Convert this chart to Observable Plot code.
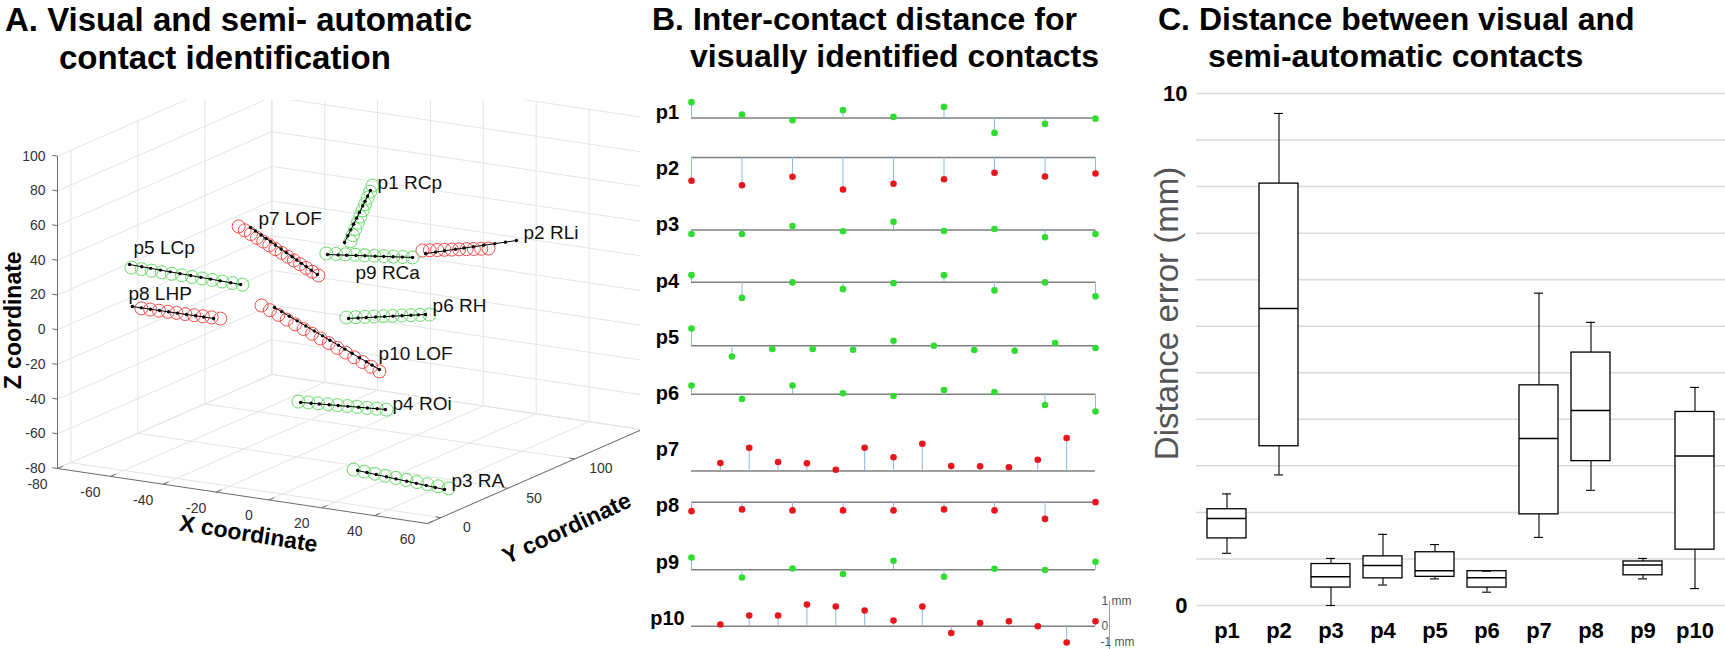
<!DOCTYPE html>
<html><head><meta charset="utf-8">
<script src="https://cdn.jsdelivr.net/npm/d3@7"></script>
<script src="https://cdn.jsdelivr.net/npm/@observablehq/plot@0.6"></script>
<style>
body{margin:0;background:#fff;font-family:"Liberation Sans",Arial,Helvetica,sans-serif;}
#fig{position:relative;width:1725px;height:649px;overflow:hidden;background:#fff;}
.t{position:absolute;font-weight:bold;color:#000;white-space:nowrap;line-height:26px;height:26px;}
.pane{position:absolute;}
.pane svg{overflow:visible;}
</style></head><body><div id="fig"></div>
<script>
// ---------------- DATA ----------------
const patients = ["p1","p2","p3","p4","p5","p6","p7","p8","p9","p10"];
const electrodeNames = ["p1 RCp","p2 RLi","p3 RA","p4 ROi","p5 LCp","p6 RH","p7 LOF","p8 LHP","p9 RCa","p10 LOF"];
const contactClass = ["green","red","green","green","green","green","red","red","green","red"];

// Panel A: 3D coordinates (mm) of first / last contact (visual and semi-automatic) and label anchors
const visualStart = [[13.4,20,61.3],[39.0,30,57.3],[23.4,10,-64.5],[6.9,0,-25.6],[-57.8,0,39.2],[14.9,20,17.8],[-52.6,80,34.6],[-61.8,10,10.7],[12.0,10,57.4],[-33.4,60,-0.3]];
const visualEnd   = [[23.2,20,93.5],[48.0,80,49.9],[56.3,10,-68.0],[39.0,0,-22.4],[-15.8,0,37.2],[44.0,20,26.7],[-27.3,80,13.3],[-31.1,10,10.8],[44.2,10,63.0],[6.3,60,-27.1]];
const semiStart   = [[15.6,20,62.4],[37.8,30,58.8],[21.9,10,-64.3],[6.1,0,-25.3],[-57.1,0,37.6],[14.1,20,18.2],[-57.1,80,34.2],[-58.4,10,10.4],[11.6,10,57.9],[-38.3,60,-0.3]];
const semiEnd     = [[24.0,20,96.5],[47.6,60,52.0],[57.8,10,-67.0],[39.4,0,-22.4],[-15.1,0,37.3],[45.5,20,27.0],[-26.9,80,12.8],[-28.5,10,11.3],[44.2,10,63.0],[6.3,60,-28.2]];
const labelPos    = [[25.9,20,98.7],[50.7,80,55.2],[58.9,10,-62.2],[41.7,0,-18.4],[-56.3,0,49.3],[46.7,20,32.5],[-49.6,80,40.5],[-63.3,10,17.9],[22.6,10,49.4],[6.0,60,-17.9]];
const nominalSpacing = 3.5; // mm
const xLim = [-80,60], yLim = [-10,150], zLim = [-80,100];
const xTicks = [-80,-60,-40,-20,0,20,40,60];
const yTicks = [0,50,100];
const zTicks = [-80,-60,-40,-20,0,20,40,60,80,100];

// Panel B: inter-contact distance deviation (mm)
const interContact = [
  [0.63,0.13,-0.09,0.31,0.04,0.44,-0.60,-0.24,-0.03],
  [-0.93,-1.11,-0.77,-1.28,-1.05,-0.87,-0.61,-0.76,-0.64],
  [-0.16,-0.16,0.16,-0.05,0.33,-0.04,0.04,-0.29,-0.16],
  [0.28,-0.63,-0.01,-0.28,-0.04,0.28,-0.33,-0.01,-0.57],
  [0.69,-0.43,-0.13,-0.13,-0.16,0.20,0.00,-0.17,-0.20,0.11,-0.09],
  [0.35,-0.19,0.35,0.04,-0.07,0.17,0.09,-0.43,-0.69],
  [0.32,0.93,0.36,0.31,0.05,0.93,0.55,1.09,0.20,0.19,0.15,0.45,1.32],
  [-0.36,-0.29,-0.33,-0.33,-0.33,-0.29,-0.33,-0.67,0.00],
  [0.49,-0.31,0.05,-0.17,0.36,-0.28,0.04,-0.01,0.32],
  [0.07,0.43,0.43,0.87,0.79,0.63,0.23,0.79,-0.27,0.13,0.20,0.00,-0.65,0.20]
];
const rowIndexStart = [0,0,0,0,0,0,1,0,0,1];
const rowIndexMax   = [8,8,8,8,10,8,14,8,8,14];
const scaleTicks = [-1,0,1];

// Panel C: distance error box statistics (mm)
const whiskerLow  = [1.02,2.55,0.00,0.40,0.52,0.26,1.33,2.25,0.52,0.33];
const quart1      = [1.31,3.11,0.35,0.53,0.56,0.35,1.78,2.82,0.59,1.09];
const medians     = [1.70,5.80,0.56,0.78,0.68,0.54,3.26,3.81,0.79,2.92];
const quart3      = [1.88,8.24,0.81,0.96,1.04,0.67,4.30,4.94,0.86,3.78];
const whiskerHigh = [2.18,9.61,0.92,1.39,1.19,0.67,6.10,5.53,0.92,4.26];
const cTicks = [0,10];
const cGrid = d3.range(12).map(i => i*10/11);

// ---------------- LAYOUT ----------------
const FONT = '"Liberation Sans", Arial, Helvetica, sans-serif';
const fig = document.getElementById("fig");
function addLine(text, left, baseline, size){
  const d = document.createElement("div"); d.className = "t"; d.textContent = text;
  d.style.left = left+"px"; d.style.fontSize = size+"px";
  d.style.top = (baseline - ((26 - 1.117*size)/2 + 0.905*size))+"px";
  fig.appendChild(d);
}
function addPane(node, left, top){
  const d = document.createElement("div"); d.className = "pane";
  d.style.left = left+"px"; d.style.top = top+"px"; d.appendChild(node); fig.appendChild(d);
  node.style.overflow = "visible";
}
addLine("A. Visual and semi- automatic", 5, 31, 33);
addLine("contact identification", 59, 69, 33);
addLine("B. Inter-contact distance for", 652, 30, 32);
addLine("visually identified contacts", 690, 67, 32);
addLine("C. Distance between visual and", 1158, 30, 32);
addLine("semi-automatic contacts", 1208, 67, 32);

const dotColor = {green: "#2fdc2f", red: "#e8161c"};
const ringColor = {green: "#66dd66", red: "#f24c4c"};

// ---------------- PANEL A ----------------
const view = {ex:[2.643,-0.393], ey:[1.34,0.5875], ez:[0,1.735]};
const P = ([X,Y,Z]) => {
  const a = X-xLim[0], b = Y-yLim[0], c = Z-zLim[0];
  return [view.ex[0]*a + view.ey[0]*b + view.ez[0]*c, view.ex[1]*a + view.ey[1]*b + view.ez[1]*c];
};
const seg = (p, q) => { const [u1,w1] = P(p), [u2,w2] = P(q); return {u1,w1,u2,w2}; };
const [x0,x1] = xLim, [y0,y1] = yLim, [z0,z1] = zLim;
const grid = [];
xTicks.forEach(X => { grid.push(seg([X,y0,z0],[X,y1,z0])); grid.push(seg([X,y1,z0],[X,y1,z1])); });
[...yTicks, y1].forEach(Y => { grid.push(seg([x0,Y,z0],[x1,Y,z0])); grid.push(seg([x0,Y,z0],[x0,Y,z1])); });
zTicks.forEach(Z => { grid.push(seg([x0,y0,Z],[x0,y1,Z])); grid.push(seg([x0,y1,Z],[x1,y1,Z])); });
const axesLines = [seg([x0,y0,z0],[x1,y0,z0]), seg([x1,y0,z0],[x1,y1,z0]), seg([x0,y0,z0],[x0,y0,z1])];
const tickMarks = [
  ...xTicks.map(X => seg([X,y0,z0],[X,y0+4,z0])),
  ...yTicks.map(Y => seg([x1,Y,z0],[x1-2,Y,z0])),
  ...zTicks.map(Z => seg([x0,y0,Z],[x0-2,y0,Z]))
];
const lerp = (s,e,f) => s.map((v,j) => v + (e[j]-v)*f);
const visual = [], semi = [];
patients.forEach((p,i) => {
  const gaps = interContact[i].map(d => nominalSpacing + d);
  const total = d3.sum(gaps);
  const cum = [0, ...d3.cumsum(gaps)];
  cum.forEach((c,k) => { const [u,w] = P(lerp(visualStart[i], visualEnd[i], c/total)); visual.push({id:p,k,u,w}); });
  const n = cum.length;
  d3.range(n).forEach(k => { const [u,w] = P(lerp(semiStart[i], semiEnd[i], k/(n-1))); semi.push({id:p,k,u,w,col:ringColor[contactClass[i]]}); });
});
const labels = electrodeNames.map((t,i) => { const [u,w] = P(labelPos[i]); return {t,u,w}; });
const xLab = xTicks.map(X => { const [u,w] = P([X,y0,z0]); return {t:String(X),u,w}; });
const yLab = yTicks.map(Y => { const [u,w] = P([x1,Y,z0]); return {t:String(Y),u,w}; });
const zLab = zTicks.map(Z => { const [u,w] = P([x0,y0,Z]); return {t:String(Z),u,w}; });
const axT = (pt, t) => { const [u,w] = P(pt); return [{t,u,w}]; };

const plotA = Plot.plot({
  width: 640, height: 649, marginTop: 100, marginLeft: 0, marginRight: 0, marginBottom: 0,
  style: {fontFamily: FONT, background: "transparent", overflow: "visible"},
  x: {domain: [-57, 583], axis: null},
  y: {domain: [-181, 368], axis: null},
  marks: [
    Plot.link(grid, {x1:"u1", y1:"w1", x2:"u2", y2:"w2", stroke:"#e4e4e4", strokeWidth:1, clip:true}),
    Plot.link(axesLines, {x1:"u1", y1:"w1", x2:"u2", y2:"w2", stroke:"#6b6b6b", strokeWidth:1, clip:true}),
    Plot.link(tickMarks, {x1:"u1", y1:"w1", x2:"u2", y2:"w2", stroke:"#6b6b6b", strokeWidth:1}),
    Plot.dot(semi, {x:"u", y:"w", r:6.5, stroke:d => d.col, fill:"none", strokeWidth:1}),
    Plot.line(visual, {x:"u", y:"w", z:"id", stroke:"#000", strokeWidth:1}),
    Plot.dot(visual, {x:"u", y:"w", r:1.7, fill:"#000", stroke:null}),
    Plot.text(labels, {x:"u", y:"w", text:"t", textAnchor:"start", fontSize:19, fill:"#111"}),
    Plot.text(xLab, {x:"u", y:"w", text:"t", dx:-20, dy:16, fontSize:14, fill:"#333"}),
    Plot.text(yLab, {x:"u", y:"w", text:"t", dx:26, dy:10, fontSize:14, fill:"#333"}),
    Plot.text(zLab, {x:"u", y:"w", text:"t", dx:-12, textAnchor:"end", fontSize:14, fill:"#333"}),
    Plot.text(axT([-10,y0,z0],"X coordinate"), {x:"u", y:"w", text:"t", dx:6, dy:38, rotate:9, fontSize:23, fontWeight:"bold", fill:"#000"}),
    Plot.text(axT([x1,70,z0],"Y coordinate"), {x:"u", y:"w", text:"t", dx:32, dy:52, rotate:-25, fontSize:23, fontWeight:"bold", fill:"#000"}),
    Plot.text(axT([x0,y0,10],"Z coordinate"), {x:"u", y:"w", text:"t", dx:-44, dy:8, rotate:-90, fontSize:23, fontWeight:"bold", fill:"#000"})
  ]
});
addPane(plotA, 0, 0);

// ---------------- PANEL B ----------------
patients.forEach((p,i) => {
  const vals = interContact[i];
  const rows = vals.map((v,k) => ({k: rowIndexStart[i] + k, v}));
  const lo = Math.min(0, d3.min(vals)), hi = Math.max(0, d3.max(vals));
  const mid = (lo+hi)/2;
  const marks = [
    Plot.ruleY([0], {stroke:"#7f7f7f", strokeWidth:1.5}),
    Plot.ruleX(rows, {x:"k", y1:0, y2:"v", stroke:"#8db9e2", strokeWidth:1}),
    Plot.dot(rows, {x:"k", y:"v", r:3.3, fill: dotColor[contactClass[i]], stroke:null}),
    Plot.text([p], {frameAnchor:"left", textAnchor:"middle", dx:-24, fontSize:20, fontWeight:"bold", fill:"#000"})
  ];
  if (i === patients.length-1) {
    const xm = rowIndexMax[i];
    const fmt = d => d === 0 ? "0" : `${d} mm`;
    marks.push(Plot.ruleX([xm], {y1:-1, y2:1, dx:14, stroke:"#a0a0a0", strokeWidth:1}));
    marks.push(Plot.text(scaleTicks.filter(d => d >= 0), {x:() => xm, y:d => d, text:fmt, dx:6, textAnchor:"start", fontSize:12, fill:"#555"}));
    marks.push(Plot.text(scaleTicks.filter(d => d < 0), {x:() => xm, y:d => d, text:fmt, dx:5, dy:-9, textAnchor:"start", fontSize:12, fill:"#555"}));
  }
  const svg = Plot.plot({
    width: 520, height: 56, marginLeft: 51, marginRight: 65, marginTop: 0, marginBottom: 0,
    style: {fontFamily: FONT, background: "transparent", overflow: "visible"},
    x: {domain: [0, rowIndexMax[i]], axis: null},
    y: {domain: [mid-0.92, mid+1.32], axis: null},
    marks
  });
  addPane(svg, 640, Math.round(112 + i*56.2 - 28));
});

// ---------------- PANEL C ----------------
const boxData = patients.map((p,i) => ({p, lo:whiskerLow[i], q1:quart1[i], med:medians[i], q3:quart3[i], hi:whiskerHigh[i]}));
const plotC = Plot.plot({
  width: 575, height: 589, marginLeft: 46, marginRight: 0, marginTop: 33, marginBottom: 44,
  style: {fontFamily: FONT, background: "transparent", overflow: "visible"},
  x: {domain: patients, paddingInner: 0.245, paddingOuter: 0.1225, axis: null, label: null},
  y: {domain: [0,10], axis: null, label: null},
  marks: [
    Plot.ruleY(cGrid, {stroke:"#dadada", strokeWidth:1.5}),
    Plot.ruleX(boxData, {x:"p", y1:"q3", y2:"hi", stroke:"#000", strokeWidth:1.1}),
    Plot.ruleX(boxData, {x:"p", y1:"lo", y2:"q1", stroke:"#000", strokeWidth:1.1}),
    Plot.barY(boxData, {x:"p", y1:"q1", y2:"q3", fill:"#fff", stroke:"#000", strokeWidth:1.3}),
    Plot.tickY(boxData, {x:"p", y:"med", stroke:"#000", strokeWidth:1.5}),
    Plot.tickY(boxData, {x:"p", y:"hi", stroke:"#000", strokeWidth:1.1, inset:15}),
    Plot.tickY(boxData, {x:"p", y:"lo", stroke:"#000", strokeWidth:1.1, inset:15}),
    Plot.axisX({tickSize:0, tickPadding:17, fontSize:22, fontWeight:"bold", fill:"#000", label:null}),
    Plot.axisY(cTicks, {tickSize:0, tickPadding:9, tickFormat:d => String(d), fontSize:22, fontWeight:"bold", fill:"#000", label:null}),
    Plot.text(["Distance error (mm)"], {frameAnchor:"left", textAnchor:"middle", dx:-29, dy:-36, rotate:-90, fontSize:33, fill:"#555"})
  ]
});
addPane(plotC, 1150, 60);
</script></body></html>
